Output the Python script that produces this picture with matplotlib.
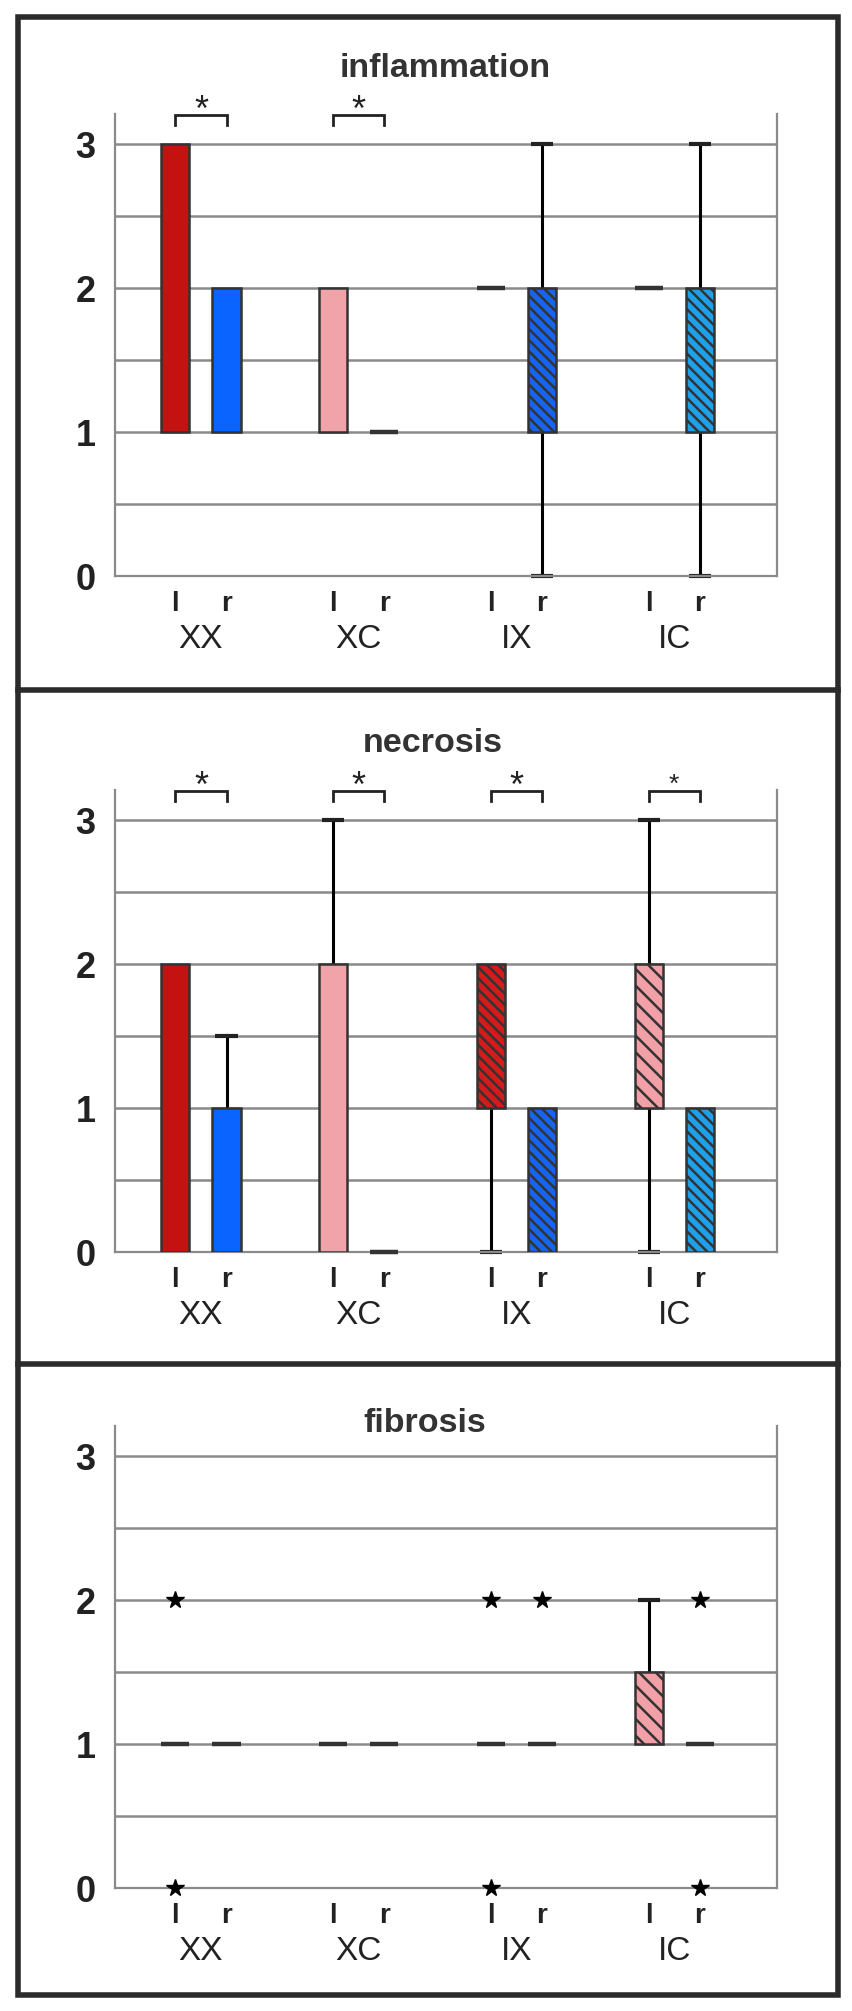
import matplotlib
matplotlib.use('Agg')
import matplotlib.pyplot as plt
from matplotlib.patches import Rectangle
from matplotlib.lines import Line2D

plt.rcParams['font.family'] = ['Liberation Sans', 'DejaVu Sans']
plt.rcParams['hatch.linewidth'] = 1.8

# ---- data -------------------------------------------------------------
groups = ['XX', 'XC', 'IX', 'IC']
sides = ['l', 'r']
# box order: XX-l, XX-r, XC-l, XC-r, IX-l, IX-r, IC-l, IC-r
box_colors = ['#c3120f', '#0a64ff', '#f0a4aa', '#0a64ff',
              '#d41a1a', '#1565f0', '#f2a0a8', '#1ea0ea']
box_hatches = ['', '', '', '', '\\\\\\', '\\\\\\', '\\\\', '\\\\\\']

infl_q1 = [1, 1, 1, 1, 2, 1, 2, 1]
infl_q3 = [3, 2, 2, 1, 2, 2, 2, 2]
infl_lo = [1, 1, 1, 1, 2, 0, 2, 0]
infl_hi = [3, 2, 2, 1, 2, 3, 2, 3]
infl_out = [[], [], [], [], [], [], [], []]
infl_sig = [26, 26, 0, 0]          # asterisk size per group (0 = none)

necr_q1 = [0, 0, 0, 0, 1, 0, 1, 0]
necr_q3 = [2, 1, 2, 0, 2, 1, 2, 1]
necr_lo = [0, 0, 0, 0, 0, 0, 0, 0]
necr_hi = [2, 1.5, 3, 0, 2, 1, 3, 1]
necr_out = [[], [], [], [], [], [], [], []]
necr_sig = [26, 26, 26, 19]

fibr_q1 = [1, 1, 1, 1, 1, 1, 1, 1]
fibr_q3 = [1, 1, 1, 1, 1, 1, 1.5, 1]
fibr_lo = [1, 1, 1, 1, 1, 1, 1, 1]
fibr_hi = [1, 1, 1, 1, 1, 1, 2, 1]
fibr_out = [[0, 2], [], [], [], [0, 2], [2], [], [0, 2]]
fibr_sig = [0, 0, 0, 0]

yticks = [0, 1, 2, 3]
ygrid = [0.5, 1, 1.5, 2, 2.5, 3]

panels = [
    ('inflammation', infl_q1, infl_q3, infl_lo, infl_hi, infl_out, infl_sig),
    ('necrosis', necr_q1, necr_q3, necr_lo, necr_hi, necr_out, necr_sig),
    ('fibrosis', fibr_q1, fibr_q3, fibr_lo, fibr_hi, fibr_out, fibr_sig),
]

# ---- layout (pixels) --------------------------------------------------
W, H = 852, 2011
ax_left, ax_right = 115, 777
unit_px = 144.0
ytop = 3.21
zero_px = [576, 1252, 1888]
title_x = [340, 363, 363]
title_base = [77, 752, 1432]
frame = (18, 17, 838, 1995)
dividers = [690, 1364]

off = 0.162
bw = 0.178
gridc = '#8a8a8a'
edgec = '#333333'

fig = plt.figure(figsize=(W / 100.0, H / 100.0), dpi=100)

for p, (title, q1, q3, lo, hi, outl, sig) in enumerate(panels):
    y0 = zero_px[p]
    hpx = ytop * unit_px
    ax = fig.add_axes([ax_left / W, 1 - y0 / H,
                       (ax_right - ax_left) / W, hpx / H])
    ax.set_xlim(-0.545, 3.652)
    ax.set_ylim(0, ytop)

    for v in ygrid:
        ax.axhline(v, color=gridc, lw=1.8, zorder=0)
    for s in ['left', 'right', 'bottom']:
        ax.spines[s].set_color(gridc)
        ax.spines[s].set_linewidth(1.6)
    ax.spines['top'].set_visible(False)

    xs = [g + d * off for g in range(len(groups)) for d in (-1, 1)]

    ax.set_yticks(yticks)
    ax.set_yticklabels([str(t) for t in yticks], fontsize=26, fontweight='bold',
                       color='#222222')
    ax.set_xticks(xs)
    ax.set_xticklabels(sides * len(groups), fontsize=20, fontweight='bold',
                       color='#222222')
    ax.tick_params(axis='y', length=0, pad=14)
    ax.tick_params(axis='x', length=0, pad=11)

    for g, name in enumerate(groups):
        ax.annotate(name, xy=(g, 0), xytext=(0, -46), textcoords='offset points',
                    ha='center', va='center', fontsize=24, color='#222222',
                    annotation_clip=False)

    for i, x in enumerate(xs):
        if q3[i] > q1[i]:
            ax.bar(x, q3[i] - q1[i], bottom=q1[i], width=bw, color=box_colors[i],
                   edgecolor=edgec, linewidth=1.8, hatch=box_hatches[i], zorder=3)
        else:
            ax.plot([x - bw / 2, x + bw / 2], [q1[i], q1[i]], color=edgec, lw=3.2,
                    solid_capstyle='butt', zorder=3, clip_on=False)
        if hi[i] > q3[i]:
            ax.plot([x, x], [q3[i], hi[i]], color='k', lw=2.2, zorder=2)
            ax.plot([x - 0.07, x + 0.07], [hi[i], hi[i]], color='#222222', lw=3,
                    solid_capstyle='butt', zorder=2)
        if lo[i] < q1[i]:
            ax.plot([x, x], [lo[i], q1[i]], color='k', lw=2.2, zorder=2)
            ax.plot([x - 0.07, x + 0.07], [lo[i], lo[i]], color='#222222', lw=3,
                    solid_capstyle='butt', zorder=2, clip_on=False)
        for v in outl[i]:
            ax.plot(x, v, marker='*', color='k', ms=13, ls='none', zorder=4,
                    clip_on=False)

    for g in range(len(groups)):
        if sig[g]:
            xl, xr = g - off, g + off
            ax.plot([xl, xl, xr, xr], [3.13, 3.2, 3.2, 3.13], color='#222222',
                    lw=2, clip_on=False, solid_joinstyle='miter')
            fpx = sig[g] * 100 / 72.0
            ax.text(g, 3.305 - 0.58 * fpx / unit_px, '*', ha='center',
                    va='baseline', fontsize=sig[g], color='#222222', clip_on=False)

    fig.text(title_x[p] / W, 1 - title_base[p] / H, title, ha='left',
             va='baseline', fontsize=24.5, fontweight='bold', color='#333333')

# ---- outer frame -----------------------------------------------------
fl, ft, fr, fb = frame
fig.add_artist(Rectangle((fl / W, 1 - fb / H), (fr - fl) / W, (fb - ft) / H,
                         transform=fig.transFigure, fill=False, lw=4,
                         edgecolor='#2b2b2b'))
for yd in dividers:
    fig.add_artist(Line2D([fl / W, fr / W], [1 - yd / H, 1 - yd / H],
                          transform=fig.transFigure, lw=4, color='#2b2b2b'))

fig.savefig('out.png', dpi=100)
